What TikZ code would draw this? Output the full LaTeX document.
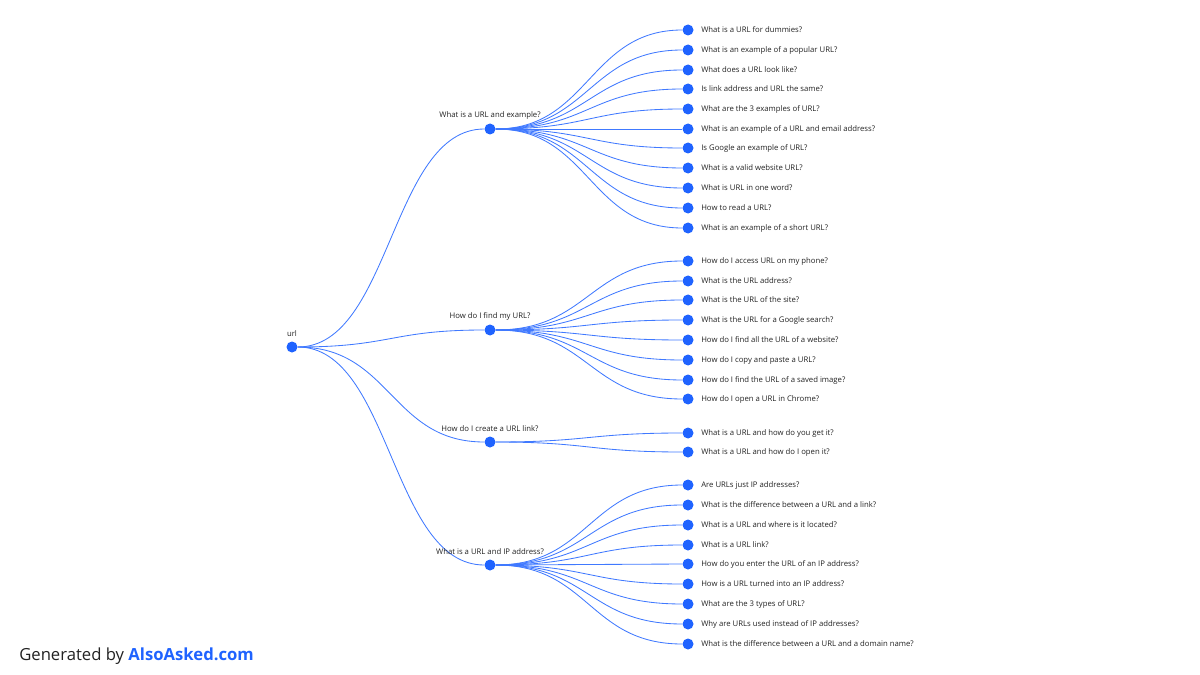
\documentclass[tikz,border=0pt]{standalone}
\usepackage{fontspec}
\setmainfont{Open Sans}
\usetikzlibrary{backgrounds}
\usetikzlibrary{calc}
\definecolor{aablue}{HTML}{1F63FF}
\definecolor{linkblue}{HTML}{4079FF}
\definecolor{qtext}{HTML}{222222}

\begin{document}
\begin{tikzpicture}[x=0.025cm,y=-0.025cm,
		label distance=0.18cm,
		every label/.style={rectangle,fill=none,inner sep=0pt,minimum size=0pt,text=qtext,font=\fontsize{5.5}{6.5}\selectfont},
		link/.style={draw=linkblue,line width=0.6pt,
			to path={let \p1=(\tikztostart), \p2=(\tikztotarget) in
				.. controls ({0.5*(\x1+\x2)},\y1) and ({0.5*(\x1+\x2)},\y2) .. (\tikztotarget)}}]
		\useasboundingbox (0,0) rectangle (1200,675);

		\begin{scope}[every node/.style={circle,fill=aablue,inner sep=0pt,minimum size=0.275cm}]
			% root and first level
			\node[label={[label distance=0.1cm]above:url}] (url) at (292,347) {};
			\node[label={[label distance=0.1cm]above:What is a URL and example?}] (ex) at (490,129) {};
			\node[label={[label distance=0.1cm]above:How do I find my URL?}] (find) at (490,330) {};
			\node[label={[label distance=0.1cm]above:How do I create a URL link?}] (link) at (490,442) {};
			\node[label={[label distance=0.1cm]above:What is a URL and IP address?}] (ip) at (490,565) {};

			% questions under "example"
			\node[label=right:{What is a URL for dummies?}] (ex1) at (688,30) {};
			\node[label=right:{What is an example of a popular URL?}] (ex2) at (688,50) {};
			\node[label=right:{What does a URL look like?}] (ex3) at (688,70) {};
			\node[label=right:{Is link address and URL the same?}] (ex4) at (688,89) {};
			\node[label=right:{What are the 3 examples of URL?}] (ex5) at (688,109) {};
			\node[label=right:{What is an example of a URL and email address?}] (ex6) at (688,129) {};
			\node[label=right:{Is Google an example of URL?}] (ex7) at (688,148) {};
			\node[label=right:{What is a valid website URL?}] (ex8) at (688,168) {};
			\node[label=right:{What is URL in one word?}] (ex9) at (688,188) {};
			\node[label=right:{How to read a URL?}] (ex10) at (688,208) {};
			\node[label=right:{What is an example of a short URL?}] (ex11) at (688,228) {};

			% questions under "find"
			\node[label=right:{How do I access URL on my phone?}] (find1) at (688,261) {};
			\node[label=right:{What is the URL address?}] (find2) at (688,281) {};
			\node[label=right:{What is the URL of the site?}] (find3) at (688,300) {};
			\node[label=right:{What is the URL for a Google search?}] (find4) at (688,320) {};
			\node[label=right:{How do I find all the URL of a website?}] (find5) at (688,340) {};
			\node[label=right:{How do I copy and paste a URL?}] (find6) at (688,360) {};
			\node[label=right:{How do I find the URL of a saved image?}] (find7) at (688,380) {};
			\node[label=right:{How do I open a URL in Chrome?}] (find8) at (688,399) {};

			% questions under "link"
			\node[label=right:{What is a URL and how do you get it?}] (link1) at (688,433) {};
			\node[label=right:{What is a URL and how do I open it?}] (link2) at (688,452) {};

			% questions under "ip"
			\node[label=right:{Are URLs just IP addresses?}] (ip1) at (688,485) {};
			\node[label=right:{What is the difference between a URL and a link?}] (ip2) at (688,505) {};
			\node[label=right:{What is a URL and where is it located?}] (ip3) at (688,525) {};
			\node[label=right:{What is a URL link?}] (ip4) at (688,545) {};
			\node[label=right:{How do you enter the URL of an IP address?}] (ip5) at (688,564) {};
			\node[label=right:{How is a URL turned into an IP address?}] (ip6) at (688,584) {};
			\node[label=right:{What are the 3 types of URL?}] (ip7) at (688,604) {};
			\node[label=right:{Why are URLs used instead of IP addresses?}] (ip8) at (688,624) {};
			\node[label=right:{What is the difference between a URL and a domain name?}] (ip9) at (688,644) {};
		\end{scope}

		\begin{scope}[on background layer]
			\foreach \t in {ex,find,link,ip}
				\path (url) edge[link] (\t);
			\foreach \i in {1,...,11}
				\path (ex) edge[link] (ex\i);
			\foreach \i in {1,...,8}
				\path (find) edge[link] (find\i);
			\foreach \i in {1,2}
				\path (link) edge[link] (link\i);
			\foreach \i in {1,...,9}
				\path (ip) edge[link] (ip\i);
		\end{scope}

		\node[anchor=base west,inner sep=0pt,text=qtext] (gen) at (19,660)
			{\fontsize{11.85}{13}\selectfont Generated by \textcolor{aablue}{\bfseries AlsoAsked.com}};
\end{tikzpicture}
\end{document}
